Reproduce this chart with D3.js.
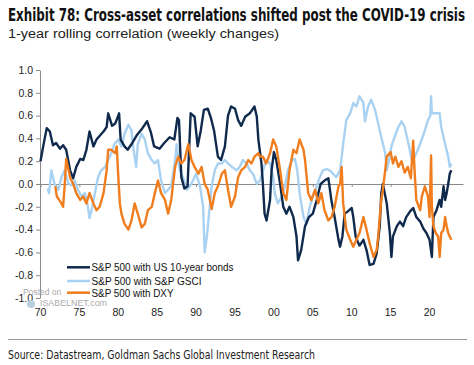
<!DOCTYPE html>
<html><head><meta charset="utf-8">
<script src="https://cdn.jsdelivr.net/npm/d3@7/dist/d3.min.js"></script>
<style>body{margin:0;background:#fff}svg{display:block}</style>
</head><body>
<script>
const seriesNames = ["S&P 500 with US 10-year bonds", "S&P 500 with S&P GSCI", "S&P 500 with DXY"];
const seriesColors = ["#0f2a4d", "#a9d2f2", "#f07d1e"];
const legendWidths = [142, 110, 82];
const xTickYears = [1970,1975,1980,1985,1990,1995,2000,2005,2010,2015,2020];
const xTickLabels = ["70","75","80","85","90","95","00","05","10","15","20"];
const yTicks = [1.0,0.8,0.6,0.4,0.2,0.0,-0.2,-0.4,-0.6,-0.8,-1.0];

const bonds = [[1970.0,0.20],[1970.4,0.35],[1970.8,0.49],[1971.2,0.46],[1971.6,0.34],[1972.0,0.36],[1972.5,0.31],[1972.9,0.34],[1973.3,0.30],[1973.8,0.12],[1974.2,0.05],[1974.6,0.15],[1975.1,0.22],[1975.5,0.21],[1975.9,0.30],[1976.3,0.46],[1976.8,0.33],[1977.2,0.39],[1977.7,0.43],[1978.1,0.46],[1978.5,0.50],[1978.7,0.62],[1979.2,0.51],[1979.6,0.53],[1980.1,0.62],[1980.3,0.39],[1980.8,0.33],[1981.2,0.30],[1981.8,0.36],[1982.4,0.43],[1983.1,0.49],[1983.7,0.55],[1984.2,0.45],[1984.6,0.33],[1985.3,0.31],[1985.9,0.36],[1986.6,0.41],[1987.2,0.39],[1987.6,0.58],[1987.8,0.56],[1988.1,0.06],[1988.5,-0.04],[1988.9,-0.02],[1989.3,0.62],[1989.8,0.59],[1990.2,0.33],[1990.6,0.47],[1991.0,0.65],[1991.5,0.66],[1991.9,0.58],[1992.3,0.47],[1992.8,0.24],[1993.2,0.21],[1993.7,0.33],[1994.1,0.60],[1994.5,0.68],[1995.0,0.66],[1995.4,0.56],[1995.8,0.51],[1996.3,0.59],[1996.9,0.62],[1997.5,0.68],[1997.8,0.59],[1998.0,0.39],[1998.4,0.18],[1998.6,-0.02],[1998.8,-0.26],[1999.05,-0.32],[1999.5,-0.14],[1999.7,0.12],[2000.0,0.28],[2000.3,0.21],[2000.8,0.0],[2001.2,-0.20],[2001.6,-0.26],[2002.0,-0.20],[2002.5,-0.29],[2002.9,-0.46],[2003.1,-0.67],[2003.5,-0.58],[2004.0,-0.37],[2004.5,-0.29],[2005.0,-0.26],[2005.5,-0.14],[2006.0,0.0],[2006.5,0.03],[2007.0,0.05],[2007.4,-0.15],[2007.8,-0.29],[2008.3,-0.49],[2008.5,-0.55],[2008.8,-0.46],[2009.1,-0.26],[2009.5,-0.24],[2010.0,-0.21],[2010.2,-0.29],[2010.5,-0.46],[2010.8,-0.51],[2011.0,-0.54],[2011.5,-0.49],[2011.9,-0.58],[2012.3,-0.71],[2012.8,-0.70],[2013.2,-0.61],[2013.6,-0.37],[2013.8,-0.08],[2014.0,0.0],[2014.5,-0.17],[2014.9,-0.43],[2015.1,-0.64],[2015.3,-0.46],[2015.8,-0.37],[2016.2,-0.33],[2016.6,-0.37],[2017.0,-0.29],[2017.5,-0.24],[2017.9,-0.21],[2018.3,-0.29],[2018.8,-0.33],[2019.2,-0.39],[2019.6,-0.43],[2020.0,-0.49],[2020.3,-0.64],[2020.5,-0.29],[2020.9,-0.23],[2021.3,-0.14],[2021.5,-0.20],[2021.8,-0.02],[2022.0,-0.14],[2022.2,-0.08],[2022.4,0.0],[2022.6,0.09],[2022.8,0.12]];

const gsci = [[1970.9,-0.04],[1971.1,-0.08],[1971.4,0.12],[1971.8,0.0],[1972.3,-0.05],[1972.7,0.06],[1973.1,0.12],[1973.6,0.0],[1974.0,-0.01],[1974.4,0.03],[1974.8,-0.05],[1975.3,-0.11],[1975.7,-0.08],[1976.1,-0.20],[1976.3,-0.30],[1976.6,-0.22],[1977.0,-0.08],[1977.4,0.06],[1977.8,0.12],[1978.3,0.15],[1978.7,0.21],[1979.1,0.27],[1979.5,0.35],[1980.0,0.39],[1980.4,0.33],[1980.8,0.44],[1981.3,0.52],[1981.7,0.47],[1981.9,0.33],[1982.3,0.15],[1982.5,0.35],[1983.0,0.44],[1983.4,0.39],[1983.8,0.27],[1984.3,0.21],[1984.7,0.18],[1985.1,0.21],[1985.5,0.03],[1986.0,-0.08],[1986.4,-0.05],[1986.8,-0.02],[1987.3,0.21],[1987.5,0.35],[1987.9,0.12],[1988.3,0.06],[1988.8,-0.05],[1989.2,-0.02],[1989.6,0.03],[1990.0,0.09],[1990.5,-0.02],[1990.9,-0.20],[1991.1,-0.60],[1991.4,-0.45],[1992.0,-0.02],[1992.4,0.12],[1992.8,0.18],[1993.3,0.18],[1993.7,0.21],[1994.1,0.18],[1994.6,0.15],[1995.2,0.12],[1995.6,0.15],[1996.0,0.21],[1996.5,0.18],[1996.9,0.12],[1997.3,0.09],[1997.8,0.0],[1998.2,0.03],[1998.6,0.12],[1999.0,0.21],[1999.5,0.18],[1999.9,0.06],[2000.1,-0.08],[2000.5,-0.17],[2001.0,-0.11],[2001.4,-0.02],[2001.8,0.12],[2002.3,0.21],[2002.7,0.22],[2003.0,0.12],[2003.3,-0.08],[2003.8,-0.29],[2004.2,-0.35],[2004.6,-0.20],[2005.0,-0.11],[2005.5,-0.02],[2005.9,0.06],[2006.3,0.12],[2006.8,0.13],[2007.2,0.12],[2007.6,0.09],[2008.0,0.06],[2008.5,0.12],[2008.9,0.35],[2009.3,0.56],[2009.8,0.62],[2010.2,0.71],[2010.6,0.68],[2011.0,0.77],[2011.5,0.71],[2011.7,0.55],[2012.1,0.68],[2012.5,0.74],[2013.0,0.65],[2013.4,0.53],[2013.8,0.41],[2014.3,0.27],[2014.5,0.12],[2014.9,0.24],[2015.1,0.33],[2015.5,0.41],[2016.0,0.50],[2016.4,0.55],[2016.8,0.50],[2017.3,0.35],[2017.7,0.21],[2018.1,0.24],[2018.5,0.30],[2019.0,0.39],[2019.4,0.47],[2019.8,0.56],[2020.1,0.60],[2020.2,0.77],[2020.3,0.62],[2020.9,0.62],[2021.3,0.62],[2021.5,0.50],[2022.0,0.35],[2022.4,0.24],[2022.6,0.15],[2022.8,0.18]];

const dxy = [[1971.9,-0.02],[1972.1,-0.11],[1972.7,-0.17],[1972.9,-0.20],[1973.1,-0.02],[1973.3,0.22],[1973.8,0.06],[1974.2,0.0],[1974.6,-0.08],[1975.1,-0.14],[1975.5,-0.11],[1975.9,-0.17],[1976.3,-0.08],[1976.8,-0.17],[1977.2,-0.23],[1977.6,-0.20],[1978.1,-0.08],[1978.5,0.12],[1978.7,0.30],[1979.1,0.30],[1979.6,0.27],[1979.8,0.33],[1980.0,0.06],[1980.2,-0.17],[1980.4,-0.26],[1980.8,-0.35],[1981.3,-0.40],[1981.7,-0.32],[1982.1,-0.17],[1982.5,-0.26],[1983.0,-0.38],[1983.4,-0.35],[1983.8,-0.23],[1984.3,-0.20],[1984.7,-0.08],[1985.1,0.03],[1985.5,-0.08],[1986.0,-0.14],[1986.4,-0.26],[1986.8,-0.14],[1987.3,0.15],[1987.7,0.24],[1988.1,0.18],[1988.5,0.21],[1989.0,0.35],[1989.4,0.21],[1989.8,0.15],[1990.3,0.09],[1990.7,0.15],[1991.1,0.0],[1991.5,-0.05],[1992.0,-0.22],[1992.4,-0.08],[1992.8,-0.02],[1993.3,0.09],[1993.7,0.12],[1994.1,-0.05],[1994.5,-0.20],[1995.0,-0.11],[1995.4,0.06],[1995.8,0.12],[1996.3,0.15],[1996.7,0.21],[1997.1,0.18],[1997.5,0.24],[1998.0,0.27],[1998.2,0.24],[1998.6,0.24],[1999.0,0.18],[1999.5,0.27],[1999.9,0.39],[2000.3,0.33],[2000.8,0.12],[2001.2,-0.08],[2001.6,-0.14],[2002.0,0.12],[2002.5,0.30],[2002.9,0.27],[2003.3,0.39],[2003.8,0.30],[2004.0,0.21],[2004.4,-0.08],[2004.8,-0.14],[2005.3,-0.05],[2005.7,-0.17],[2006.1,-0.08],[2006.5,-0.23],[2007.0,-0.32],[2007.4,-0.29],[2007.8,-0.20],[2008.3,-0.02],[2008.5,0.0],[2008.7,0.15],[2008.9,-0.17],[2009.3,-0.40],[2009.8,-0.49],[2010.2,-0.55],[2010.6,-0.49],[2011.0,-0.43],[2011.5,-0.29],[2011.9,-0.40],[2012.3,-0.52],[2012.8,-0.64],[2013.2,-0.58],[2013.4,-0.46],[2013.6,-0.29],[2013.8,-0.14],[2014.0,-0.05],[2014.3,0.12],[2014.5,0.24],[2015.0,0.28],[2015.3,0.18],[2015.6,0.24],[2016.0,0.15],[2016.4,0.20],[2016.8,0.10],[2017.2,0.15],[2017.6,0.05],[2017.9,0.38],[2018.1,0.09],[2018.3,-0.14],[2018.8,-0.23],[2019.0,-0.11],[2019.4,-0.02],[2019.8,-0.11],[2020.0,-0.29],[2020.2,0.25],[2020.3,-0.20],[2020.5,-0.37],[2020.8,-0.43],[2021.1,-0.46],[2021.3,-0.64],[2021.5,-0.43],[2021.8,-0.40],[2022.0,-0.29],[2022.2,-0.37],[2022.4,-0.43],[2022.6,-0.46],[2022.8,-0.49]];

const W = 474, H = 365;
const svg = d3.select("body").append("svg").attr("width", W).attr("height", H);
svg.append("rect").attr("width", W).attr("height", H).attr("fill", "#fff");

const narrow = "'Liberation Sans Narrow','DejaVu Sans Condensed','Arial Narrow',sans-serif";
const sans = "'Liberation Sans',Arial,Helvetica,sans-serif";

svg.append("text").attr("x", 8).attr("y", 20.5)
  .attr("font-family", narrow).attr("font-weight", "bold").attr("font-size", 17.5)
  .attr("fill", "#111").attr("textLength", 457).attr("lengthAdjust", "spacingAndGlyphs")
  .text("Exhibit 78: Cross-asset correlations shifted post the COVID-19 crisis");
svg.append("text").attr("x", 8).attr("y", 38)
  .attr("font-family", sans).attr("font-size", 12.5).attr("fill", "#222")
  .attr("textLength", 271).attr("lengthAdjust", "spacingAndGlyphs")
  .text("1-year rolling correlation (weekly changes)");

const x = d3.scaleLinear().domain([1970, 2024.3]).range([40.5, 463]);
const y = d3.scaleLinear().domain([-1, 1]).range([298, 70]);

// y axis
const yAxis = svg.append("g").attr("transform", "translate(40,0)")
  .call(d3.axisLeft(y).tickValues(yTicks).tickSize(4).tickSizeOuter(0)
    .tickFormat(d => (Math.abs(d) < 1e-9 ? 0 : d).toFixed(1)));
yAxis.selectAll("path,line").attr("stroke", "#8a8a8a");
yAxis.selectAll("text").attr("font-family", sans).attr("font-size", 10.5).attr("fill", "#222").attr("x", -7);

// zero axis with ticks
const xAxis = svg.append("g").attr("transform", `translate(0,${y(0)})`)
  .call(d3.axisBottom(x).tickValues(xTickYears).tickSize(3).tickSizeOuter(0).tickFormat(""));
xAxis.selectAll("path,line").attr("stroke", "#8a8a8a");

// x labels at bottom
svg.append("g").selectAll("text").data(xTickYears).join("text")
  .attr("x", d => x(d)).attr("y", 315.5).attr("text-anchor", "middle")
  .attr("font-family", sans).attr("font-size", 10.5).attr("fill", "#222")
  .text((d, i) => xTickLabels[i]);

const line = d3.line().x(d => x(d[0])).y(d => y(d[1]));
const data = [bonds, gsci, dxy];
[1, 0, 2].forEach(i => {
  svg.append("path").datum(data[i]).attr("d", line)
    .attr("fill", "none").attr("stroke", seriesColors[i]).attr("stroke-width", 2.4)
    .attr("stroke-linejoin", "round");
});

// watermark
svg.append("text").attr("x", 23).attr("y", 294.5).attr("font-family", sans).attr("font-size", 8.5)
  .attr("fill", "#ababab").text("Posted on");
svg.append("circle").attr("cx", 31).attr("cy", 304).attr("r", 4).attr("fill", "#b9cfe0");
svg.append("text").attr("x", 40).attr("y", 306).attr("font-family", sans).attr("font-size", 9.5)
  .attr("fill", "#ababab").attr("textLength", 67).attr("lengthAdjust", "spacingAndGlyphs").text("ISABELNET.com");

// legend
const legY = [267.3, 281, 292.7];
seriesNames.forEach((n, i) => {
  svg.append("line").attr("x1", 67).attr("x2", 90).attr("y1", legY[i]).attr("y2", legY[i])
    .attr("stroke", seriesColors[i]).attr("stroke-width", 2.5);
  svg.append("text").attr("x", 91.5).attr("y", legY[i] + 3.8).attr("font-family", sans)
    .attr("font-size", 10.5).attr("fill", "#111")
    .attr("textLength", legendWidths[i]).attr("lengthAdjust", "spacingAndGlyphs").text(n);
});

// source
svg.append("line").attr("x1", 8).attr("x2", 467).attr("y1", 339.5).attr("y2", 339.5)
  .attr("stroke", "#999").attr("stroke-width", 1.2);
svg.append("text").attr("x", 8).attr("y", 358.5).attr("font-family", narrow)
  .attr("font-size", 12).attr("fill", "#222").attr("textLength", 307).attr("lengthAdjust", "spacingAndGlyphs")
  .text("Source: Datastream, Goldman Sachs Global Investment Research");
</script>
</body></html>
